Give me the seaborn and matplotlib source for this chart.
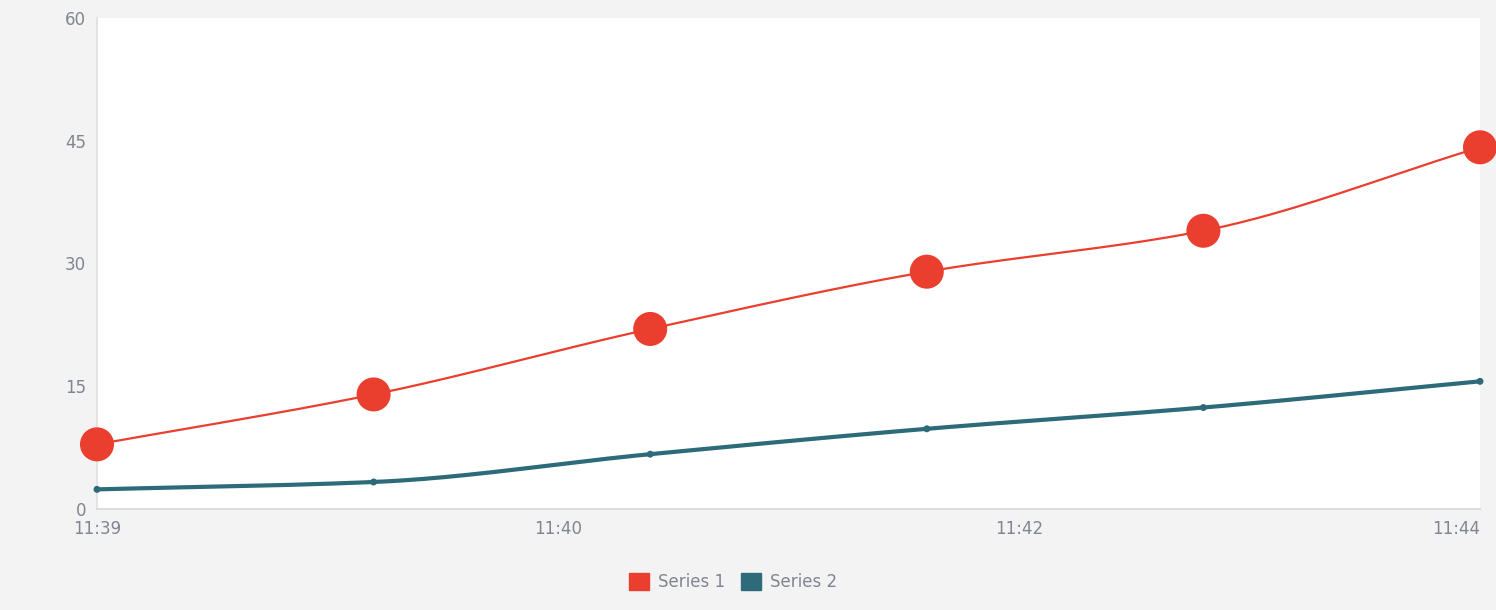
import numpy as np
import pandas as pd
import matplotlib.pyplot as plt
import matplotlib.dates as mdates
import seaborn as sns
from matplotlib.patches import Patch

# data
times = ["11:39:00", "11:40:00", "11:41:00", "11:42:00", "11:43:00", "11:44:00"]
series1 = [7.9, 14, 22, 29, 34, 44.2]
series2 = [2.4, 3.3, 6.7, 9.8, 12.4, 15.6]
tick_times = ["11:39:00", "11:40:40", "11:42:20", "11:44:00"]
red = "#ea3e2e"
teal = "#2d6a7a"

t = pd.to_datetime(["2024-01-01 " + s for s in times])
ticks = pd.to_datetime(["2024-01-01 " + s for s in tick_times])
df = pd.DataFrame({"time": t, "Series 1": series1, "Series 2": series2})


def smooth(x, y, n=40):
    # monotone cubic hermite, just for drawing the curved line
    x = np.asarray(x, float); y = np.asarray(y, float)
    h = np.diff(x); d = np.diff(y) / h
    m = np.zeros_like(y)
    m[0], m[-1] = d[0], d[-1]
    for i in range(1, len(y) - 1):
        m[i] = 0 if d[i-1] * d[i] <= 0 else 2 / (1 / d[i-1] + 1 / d[i])
    xs, ys = [], []
    for i in range(len(h)):
        s = np.linspace(0, 1, n)
        h00 = 2*s**3 - 3*s**2 + 1; h10 = s**3 - 2*s**2 + s
        h01 = -2*s**3 + 3*s**2; h11 = s**3 - s**2
        xs.append(x[i] + s*h[i])
        ys.append(h00*y[i] + h10*h[i]*m[i] + h01*y[i+1] + h11*h[i]*m[i+1])
    return np.concatenate(xs), np.concatenate(ys)


sns.set_theme(style="white")
plt.rcParams['font.family'] = ['DejaVu Sans']
fig = plt.figure(figsize=(14.96, 6.10), dpi=100, facecolor="#f3f3f3")
ax = fig.add_axes([97/1496, 1 - 509/610, 1383/1496, 491/610])
ax.set_facecolor("white")

xn = mdates.date2num(df["time"])
for col, c, lw in [("Series 1", red, 1.6), ("Series 2", teal, 3)]:
    sx, sy = smooth(xn, df[col])
    sns.lineplot(x=mdates.num2date(sx), y=sy, ax=ax, color=c, lw=lw)
sns.scatterplot(data=df, x="time", y="Series 1", ax=ax, color=red, s=600,
                edgecolor="none", zorder=5, clip_on=False)
sns.scatterplot(data=df, x="time", y="Series 2", ax=ax, color=teal, s=25,
                edgecolor="none", zorder=5, clip_on=False)

ax.set_xlim(t[0], t[-1])
ax.set_ylim(0, 60)
ax.set_yticks([0, 15, 30, 45, 60])
ax.set_xticks(ticks)
ax.xaxis.set_major_formatter(mdates.DateFormatter("%H:%M"))
ax.set_xlabel(""); ax.set_ylabel("")
ax.tick_params(colors="#7f8591", labelsize=12, length=0, pad=8)
fig.canvas.draw()
ax.get_xticklabels()[-1].set_ha("right")
for s in ["top", "right"]:
    ax.spines[s].set_visible(False)
ax.spines["left"].set_color("#e0e0e0")
ax.spines["bottom"].set_color("#dcdcdc")
ax.spines["bottom"].set_linewidth(1.5)

handles = [Patch(color=red, label="Series 1"), Patch(color=teal, label="Series 2")]
fig.legend(handles=handles, loc="center", bbox_to_anchor=(0.49, 1 - 582/610), ncol=2,
           frameon=False, fontsize=12, labelcolor="#7f8591", handlelength=1.2,
           handleheight=1.2, columnspacing=1.0, handletextpad=0.5)

fig.savefig("out.png", facecolor=fig.get_facecolor())
